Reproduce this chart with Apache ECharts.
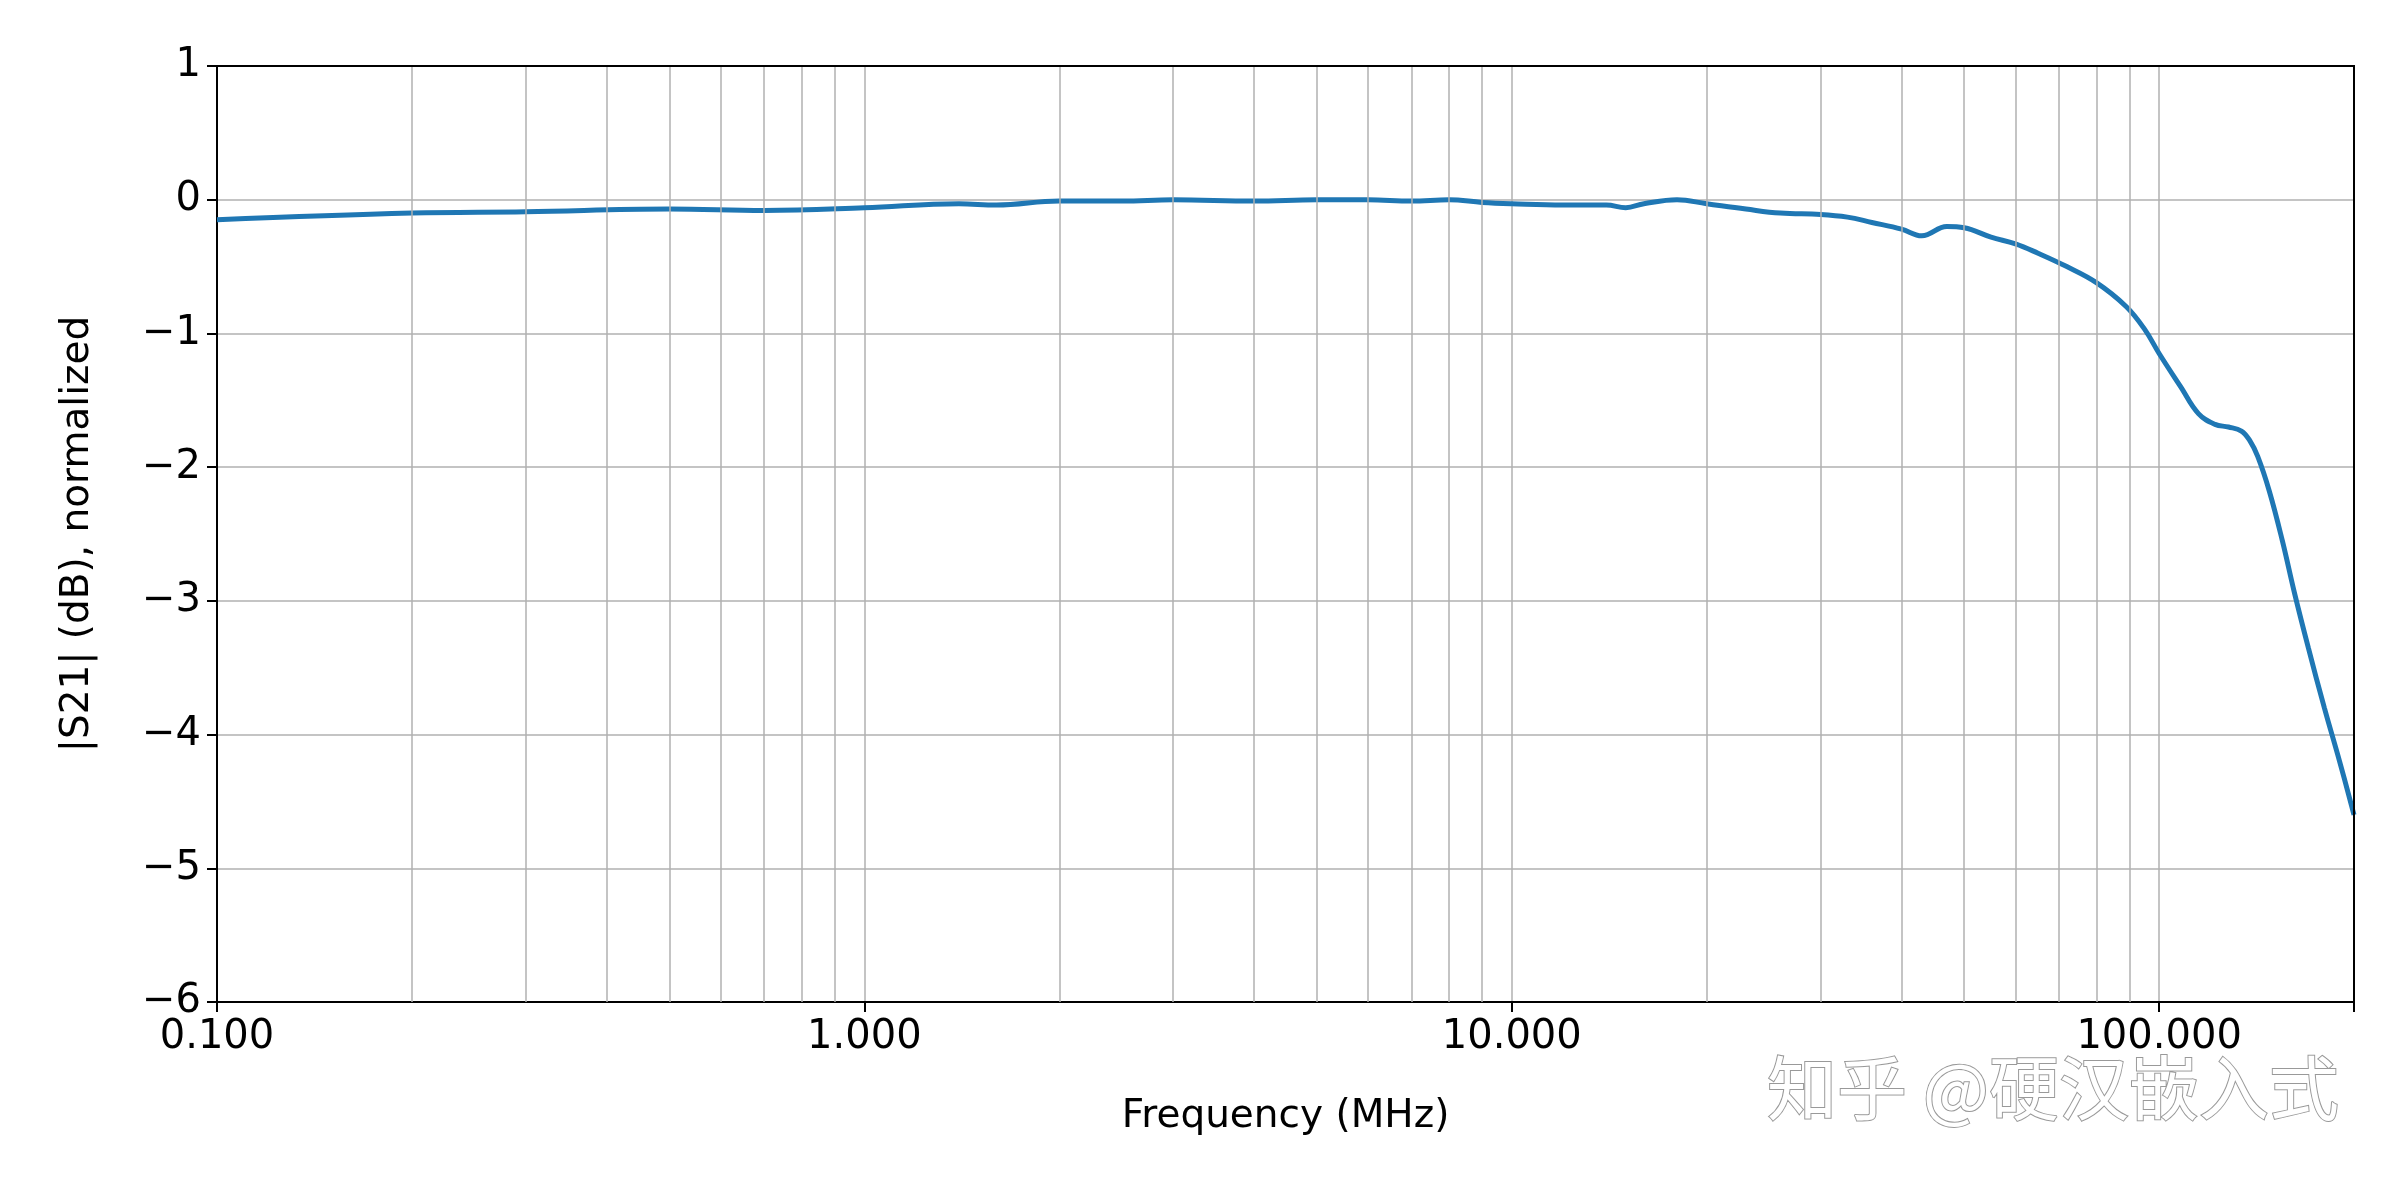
<!DOCTYPE html>
<html><head><meta charset="utf-8">
<script src="https://cdn.jsdelivr.net/npm/echarts@6/dist/echarts.min.js"></script>
<style>html,body{margin:0;padding:0;background:#fff}#c{width:2400px;height:1200px}</style>
</head><body><div id="c"></div>
<script>
const freq = [0.1,0.2,0.3,0.5,0.7,1,1.4,1.6,2,2.5,3,4,5,6,7,8,9,10,12,14,15,16,18,20,23,26,30,33,36,40,43,47,50,55,60,65,72,80,89,95,100,108,115,122,128,134,138,142,148,155,162,170,180,190,200];
const s21  = [-0.15,-0.10,-0.09,-0.07,-0.08,-0.06,-0.03,-0.04,-0.01,-0.01,0,-0.01,0,0,-0.01,0,-0.02,-0.03,-0.04,-0.04,-0.06,-0.03,0,-0.03,-0.07,-0.1,-0.11,-0.13,-0.17,-0.22,-0.27,-0.2,-0.21,-0.28,-0.33,-0.4,-0.5,-0.62,-0.8,-0.97,-1.15,-1.4,-1.6,-1.68,-1.7,-1.73,-1.8,-1.92,-2.18,-2.55,-2.95,-3.35,-3.8,-4.2,-4.6];
const minorGrid = [0.2,0.3,0.4,0.5,0.6,0.7,0.8,0.9,2,3,4,5,6,7,8,9,20,30,40,50,60,70,80,90];
const font = 'DejaVu Sans';
const axisLine = {show:true,onZero:false,lineStyle:{color:'#000',width:2}};
const chart = echarts.init(document.getElementById('c'));
chart.setOption({
  animation:false,
  grid:{left:217,right:46,top:66,bottom:198},
  xAxis:{type:'log',logBase:10,min:0.1,max:200,name:'Frequency (MHz)',nameLocation:'middle',nameGap:95,
    nameTextStyle:{fontFamily:font,fontSize:39,color:'#000'},
    axisLine:axisLine,
    axisTick:{show:true,inside:false,length:10,lineStyle:{color:'#000',width:2}},
    axisLabel:{fontFamily:font,fontSize:40,color:'#000',margin:16,
      formatter:v=>{const l=Math.log10(v);return Math.abs(l-Math.round(l))<1e-6?v.toFixed(3):'';}},
    splitLine:{show:true,lineStyle:{color:'#b0b0b0',width:1.5}}},
  yAxis:{type:'value',min:-6,max:1,interval:1,name:'|S21| (dB), normalized',nameLocation:'middle',nameGap:120,
    nameTextStyle:{fontFamily:font,fontSize:39,color:'#000'},
    axisLine:axisLine,
    axisTick:{show:true,length:10,lineStyle:{color:'#000',width:2}},
    axisLabel:{fontFamily:font,fontSize:40,color:'#000',margin:16,formatter:v=>String(v).replace('-','\u2212')},
    splitLine:{show:true,lineStyle:{color:'#b0b0b0',width:1.5}}},
  graphic:[
    {type:'rect',z:100,shape:{x:2353,y:65,width:2,height:937},style:{fill:'#000'}},
    {type:'rect',z:100,shape:{x:216,y:65,width:2139,height:2},style:{fill:'#000'}},
    {type:'text',right:60,top:1052,style:{text:'知乎 @硬汉嵌入式',fontFamily:'Noto Sans CJK SC',fontSize:70,fill:'#fff',stroke:'#999',lineWidth:2}}
  ],
  series:[{type:'line',data:freq.map((f,i)=>[f,s21[i]]),showSymbol:false,smooth:0.4,clip:true,
    lineStyle:{color:'#1f77b4',width:5},
    markLine:{silent:true,symbol:'none',label:{show:false},lineStyle:{color:'#b0b0b0',width:1.5,type:'solid'},
      data:minorGrid.map(v=>({xAxis:v}))}}]
});
</script></body></html>
